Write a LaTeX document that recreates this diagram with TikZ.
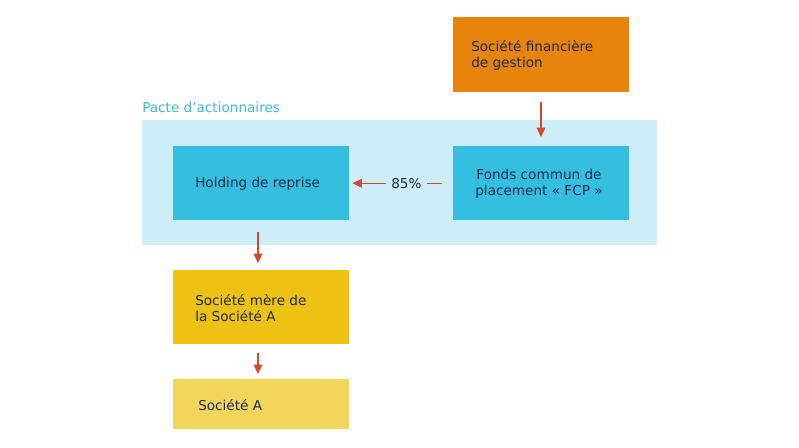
\documentclass[tikz,border=0pt]{standalone}
\usepackage{fontspec}
\setmainfont{DejaVu Sans}
\usetikzlibrary{arrows.meta}
\definecolor{orangebox}{HTML}{E8830C}
\definecolor{cyanbox}{HTML}{34BFE1}
\definecolor{lightcyan}{HTML}{CDEEF7}
\definecolor{yellowbox}{HTML}{EDC213}
\definecolor{lightyellow}{HTML}{F2D55B}
\definecolor{arrowred}{HTML}{D9472B}
\definecolor{textnavy}{HTML}{1E2B48}
\definecolor{labelcyan}{HTML}{3CB9DD}
\begin{document}
\begin{tikzpicture}[x=0.75pt,y=-0.75pt,
  box/.style={draw=none,minimum width=132pt,inner sep=0pt,anchor=north west},
  txt/.style={text=textnavy,font=\fontsize{10.2pt}{12pt}\selectfont,align=left,anchor=west,inner sep=0pt},
  flow/.style={draw=arrowred,line width=0.9pt,-{Triangle[length=7pt,width=6.5pt]}}]
\useasboundingbox (0,0) rectangle (799,447);
\fill[white] (0,0) rectangle (799,447);
% region
\node[box,fill=lightcyan,minimum width=386.25pt,minimum height=93.75pt] (pacte) at (142,120) {};
\node[anchor=west,inner sep=0pt,text=labelcyan,font=\fontsize{10.2pt}{12pt}\selectfont] (pactelbl) at (142,107) {Pacte d’actionnaires};
% boxes
\node[box,fill=orangebox,minimum height=56.25pt] (sfg) at (453,17) {};
\node[box,fill=cyanbox,minimum height=55.5pt] (fcp) at (453,146) {};
\node[box,fill=cyanbox,minimum height=55.5pt] (hold) at (173,146) {};
\node[box,fill=yellowbox,minimum height=55.5pt] (mere) at (173,270) {};
\node[box,fill=lightyellow,minimum height=37.5pt] (soca) at (173,379) {};
% texts
\node[txt] (sfgt) at (471,55) {Société financière\\de gestion};
\node[txt,align=center,anchor=center] (fcpt) at (539,184) {Fonds commun de\\placement « FCP »};
\node[txt] (holdt) at (195,184) {Holding de reprise};
\node[txt] (meret) at (195,308) {Société mère de\\la Société A};
\node[txt] (socat) at (198,405) {Société A};
% connectors
\draw[flow,shorten <=6.75pt,shorten >=6.75pt] (sfg.south -| 541,0) -- (fcp.north -| 541,0);
\draw[flow,shorten <=8.25pt,shorten >=5.25pt] (hold.south -| 258,0) -- (mere.north -| 258,0);
\draw[flow,shorten <=6pt,shorten >=3.75pt] (mere.south -| 258,0) -- (soca.north -| 258,0);
\draw[flow,shorten <=8.25pt,shorten >=2.25pt] (fcp.west) -- node[pos=0.45,fill=lightcyan,inner xsep=4pt,inner ysep=1pt,text=textnavy,font=\fontsize{10.2pt}{12pt}\selectfont] (pct) {85\%} (hold.east);
\end{tikzpicture}
\end{document}
